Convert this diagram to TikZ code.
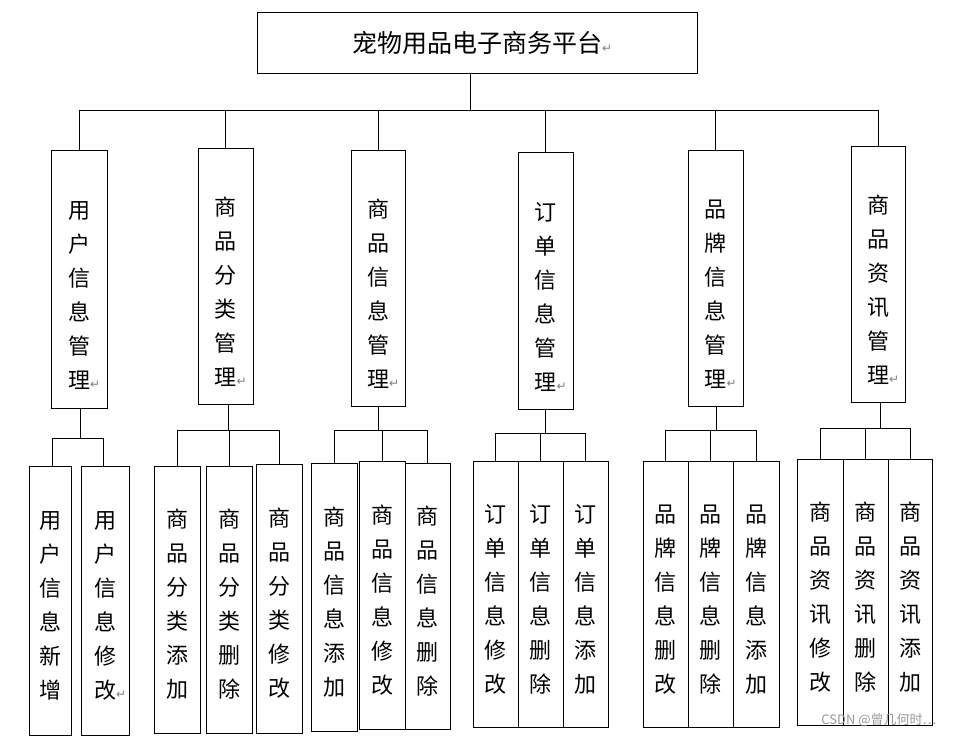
\documentclass[tikz,border=0pt]{standalone}
\usepackage{fontspec}
\setmainfont{Noto Sans CJK SC}
\newfontfamily\symf{DejaVu Sans}
\newcommand{\rt}{\makebox[0pt][l]{\fontsize{12}{12}\selectfont\symf\color{gray}↵}}
\tikzset{bx/.style={draw,line width=1pt,inner sep=0pt,align=center,font=\fontsize{22}{34}\selectfont},
ln/.style={line width=1pt}}
\newcommand{\bxn}[7]{\node[bx,minimum width=#3-#2,minimum height=#5-#4] (#1) at ({(#2+#3)/2},{(#4+#5)/2}) {#7#6};}
\newcommand{\pA}{\mbox{}\\[17pt]}
\newcommand{\pB}{\mbox{}\\[-6pt]}
\begin{document}
\begin{tikzpicture}[x=1pt,y=-1pt]
\useasboundingbox (0,0) rectangle (953,739);
\node[bx,minimum width=440,minimum height=61,font=\fontsize{25}{30}\selectfont] (top) at (477,42.5) {宠物用品电子商务平台\rt};
\bxn{A}{51}{107}{150}{408}{用\\户\\信\\息\\管\\理\rt}{\pA}
\bxn{B}{198}{253}{148}{404}{商\\品\\分\\类\\管\\理\rt}{\pA}
\bxn{C}{351}{405}{150}{406}{商\\品\\信\\息\\管\\理\rt}{\pA}
\bxn{D}{518}{573}{152}{409}{订\\单\\信\\息\\管\\理\rt}{\pA}
\bxn{E}{688}{743}{150}{406}{品\\牌\\信\\息\\管\\理\rt}{\pA}
\bxn{F}{851}{905}{146}{402}{商\\品\\资\\讯\\管\\理\rt}{\pA}
\coordinate (b0) at (470,110);
\draw[ln] (b0|-top.south) -- (b0);
\foreach \n in {A,B,C,D,E,F} \draw[ln] (\n.north) |- (b0);
% level 3
\bxn{A1}{29}{71}{466}{735}{用\\户\\信\\息\\新\\增}{\pB}
\bxn{A2}{81}{129}{466}{735}{用\\户\\信\\息\\修\\改\rt}{\pB}
\bxn{B1}{154}{200}{466}{733}{商\\品\\分\\类\\添\\加}{\pB}
\bxn{B2}{206}{252}{466}{733}{商\\品\\分\\类\\删\\除}{\pB}
\bxn{B3}{256}{302}{464}{733}{商\\品\\分\\类\\修\\改}{\pB}
\bxn{C1}{311}{357}{463}{731}{商\\品\\信\\息\\添\\加}{\pB}
\bxn{C2}{359}{405}{461}{729}{商\\品\\信\\息\\修\\改}{\pB}
\bxn{C3}{405}{450}{463}{729}{商\\品\\信\\息\\删\\除}{\pB}
\bxn{D1}{473}{518}{461}{727}{订\\单\\信\\息\\修\\改}{\pB}
\bxn{D2}{518}{563}{461}{727}{订\\单\\信\\息\\删\\除}{\pB}
\bxn{D3}{563}{608}{461}{727}{订\\单\\信\\息\\添\\加}{\pB}
\bxn{E1}{643}{688}{461}{727}{品\\牌\\信\\息\\删\\改}{\pB}
\bxn{E2}{688}{733}{461}{727}{品\\牌\\信\\息\\删\\除}{\pB}
\bxn{E3}{733}{779}{461}{727}{品\\牌\\信\\息\\添\\加}{\pB}
\bxn{F1}{797}{843}{459}{725}{商\\品\\资\\讯\\修\\改}{\pB}
\bxn{F2}{843}{888}{459}{725}{商\\品\\资\\讯\\删\\除}{\pB}
\bxn{F3}{888}{932}{459}{725}{商\\品\\资\\讯\\添\\加}{\pB}
\coordinate (gA) at (80,438);
\draw[ln] (A.south-|gA) -- (gA);
\draw[ln] (gA) -- (52,438) -- (A1.north-|52,0);
\draw[ln] (gA) -- (103,438) -- (A2.north-|103,0);
\foreach \g/\y/\s in {B/430/228,C/430/378,D/433/545,E/430/716,F/428/880}{
  \coordinate (g\g) at (\s,\y);
  \draw[ln] (\g.south-|\s,0) -- (g\g);
  \foreach \i in {1,2,3} \draw[ln] (\g\i.north) |- (g\g);
}
\node[font=\fontsize{13}{13}\selectfont,text=gray!80,anchor=east] (wm) at (940,720) {CSDN @曾几何时…};
\end{tikzpicture}
\end{document}
